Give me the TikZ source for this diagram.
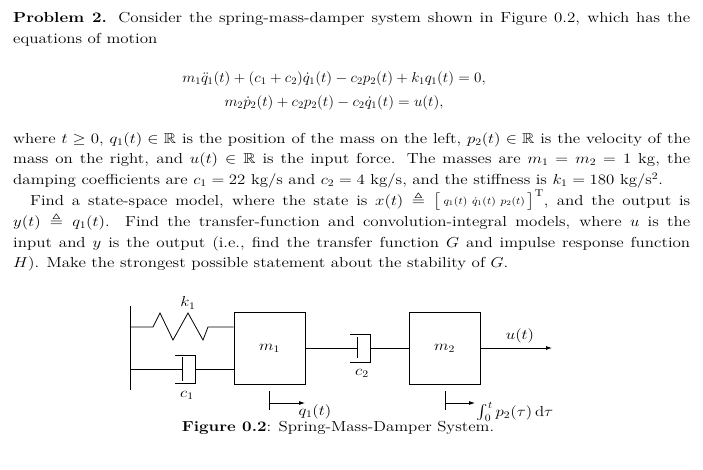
\documentclass[tikz,border=0pt]{standalone}
\usepackage{amsmath,amssymb}
\usetikzlibrary{arrows.meta}
\begin{document}
\begin{tikzpicture}[x=1pt,y=-1pt,
  txt/.style={xscale=1.17,transform shape,inner sep=0pt,font=\fontsize{14.5}{20.8}\selectfont},
  para/.style={txt,text width=578.6pt,align=justify,anchor=north west},
  ln/.style={line width=0.8pt},
  arr/.style={ln,-{Latex[length=6pt,width=4pt]}}]
\useasboundingbox (0,0) rectangle (703,469);
\node[para] (p1) at (13,12) {\textbf{Problem 2.} Consider the spring-mass-damper system shown in Figure 0.2, which has the\linebreak equations of motion};
\node[txt,xscale=0.9] (eq) at (334,90) {$\displaystyle\begin{gathered}
m_1\ddot q_1(t)+(c_1+c_2)\dot q_1(t)-c_2p_2(t)+k_1q_1(t)=0,\\
m_2\dot p_2(t)+c_2p_2(t)-c_2\dot q_1(t)=u(t),
\end{gathered}$};
\node[para] (p2) at (13,132) {where $t\ge 0$, $q_1(t)\in\mathbb R$ is the position of the mass on the left, $p_2(t)\in\mathbb R$ is the velocity of the\linebreak mass on the right, and $u(t)\in\mathbb R$ is the input force. The masses are $m_1=m_2=1$ kg, the\linebreak damping coefficients are $c_1=22$ kg/s and $c_2=4$ kg/s, and the stiffness is $k_1=180$ kg/s$^2$.\par
\hspace*{1em}Find a state-space model, where the state is $x(t)\triangleq\big[\begin{smallmatrix}q_1(t)&\dot q_1(t)&p_2(t)\end{smallmatrix}\big]^{\mathrm T}$, and the output is\linebreak $y(t)\triangleq q_1(t)$. Find the transfer-function and convolution-integral models, where $u$ is the\linebreak input and $y$ is the output (i.e., find the transfer function $G$ and impulse response function\linebreak $H$). Make the strongest possible statement about the stability of $G$.};
% figure
\node[draw,ln,minimum width=71pt,minimum height=72pt,inner sep=0pt] (m1) at (269.5,348) {};
\node[txt] at (m1.center) {$m_1$};
\node[draw,ln,minimum width=71pt,minimum height=72pt,inner sep=0pt] (m2) at (444.5,348) {};
\node[txt] at (m2.center) {$m_2$};
\coordinate (wt) at (130,306); \coordinate (wb) at (130,390);
\draw[ln] (wt) -- (wb);
\draw[ln] (130,327) -- (153,327) -- (160,313) -- (173,340) -- (188,313) -- (203,340) -- (208,327) -- (m1.west |- 0,327);
\node[txt] (k1) at (188,303) {$k_1$};
\draw[ln] (130,369) -- (182,369);
\draw[ln] (182,357) -- (182,381);
\draw[ln] (175,355) -- (195,355) -- (195,383) -- (175,383);
\draw[ln] (195,369) -- (m1.west |- 0,369);
\node[txt] (c1) at (187,395) {$c_1$};
\draw[ln] (m1.east) -- (357,348);
\draw[ln] (357,337) -- (357,358);
\draw[ln] (350,334) -- (370,334) -- (370,362) -- (350,362);
\draw[ln] (370,348) -- (m2.west);
\node[txt] (c2) at (362,373) {$c_2$};
\coordinate (uend) at (552,348);
\draw[arr] (m2.east) -- (uend);
\node[txt] (u) at (520,336) {$u(t)$};
\draw[ln] (269,391) -- (269,410);
\draw[arr] (269,403) -- (305,403);
\node[txt] (q1) at (315,412) {$q_1(t)$};
\draw[ln] (445,391) -- (445,410);
\draw[arr] (445,403) -- (475,403);
\node[txt] (int) at (515,412) {$\int_0^t p_2(\tau)\,\mathrm d\tau$};
\node[txt] (cap) at (338,428) {\textbf{Figure 0.2}: Spring-Mass-Damper System.};
\end{tikzpicture}
\end{document}
